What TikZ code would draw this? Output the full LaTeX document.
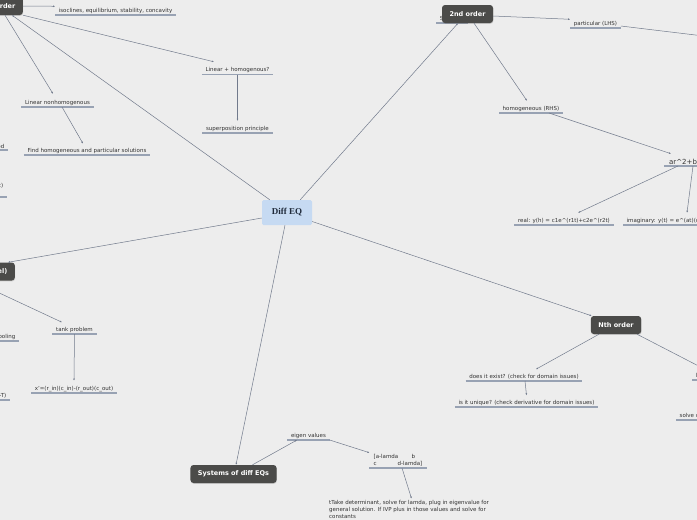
\documentclass[tikz,border=0pt]{standalone}
\usepackage{fontspec}
\setmainfont{DejaVu Sans}
\newfontfamily\diffont{Liberation Serif}
\usetikzlibrary{arrows.meta,shadows}
\definecolor{bg}{HTML}{EDEDED}
\definecolor{linec}{HTML}{717A8C}
\definecolor{ulc}{HTML}{98A2B3}
\definecolor{darkbox}{HTML}{4B4B49}
\definecolor{txt}{HTML}{333333}
\definecolor{rootfill}{HTML}{C6DAF2}
\definecolor{roottxt}{HTML}{1F2A3A}
\tikzset{
  topic/.style={inner xsep=3.5pt, inner ysep=1.5pt, text=txt, font=\fontsize{5.5}{7}\selectfont,
    append after command={(\tikzlastnode.south west) edge[draw=ulc, line width=1.1pt, -] (\tikzlastnode.south east)}},
  dbox/.style={fill=darkbox, rounded corners=3pt, text=white, font=\bfseries\fontsize{6.5}{8}\selectfont,
    inner xsep=7.5pt, minimum height=18pt, drop shadow={opacity=0.3, shadow xshift=0.4pt, shadow yshift=-0.8pt}},
  rootbox/.style={fill=rootfill, rounded corners=1.5pt, minimum width=50pt, minimum height=25pt,
    font=\diffont\bfseries\fontsize{9}{10}\selectfont, text=roottxt},
  conn/.style={draw=linec, line width=0.5pt, -{Latex[length=2pt,width=1.8pt]}},
}
\begin{document}
\begin{tikzpicture}[x=1pt,y=-1pt]
\fill[bg] (0,0) rectangle (697,520);
\useasboundingbox (0,0) rectangle (697,520);

% first order branch
\node[dbox, anchor=east] (first) at (23,6) {1st order};
\node[topic, anchor=south] (iso) at (115.5,15) {isoclines, equilibrium, stability, concavity};
\node[topic, anchor=south] (linhom) at (237.5,74.5) {Linear + homogenous?};
\node[topic, anchor=south] (superpos) at (237.5,133) {superposition principle};
\node[topic, anchor=south] (linnon) at (57.5,107) {Linear nonhomogenous};
\node[topic, anchor=south] (findhom) at (87,155) {Find homogeneous and particular solutions};
\node[topic, anchor=south east] (meth) at (8,150) {method};
\node[topic, anchor=south east, align=left] (sep) at (7,197) {separate and integrate (+c)\\for y};

% model branch
\node[dbox, anchor=east] (model) at (15,271.5) {Applications (model)};
\node[topic, anchor=south] (tank) at (74.5,334) {tank problem};
\node[topic, anchor=south] (xprime) at (74,393) {x'=(r\_in)(c\_in)-(r\_out)(c\_out)};
\node[topic, anchor=south east] (cool) at (19,341) {Newton's law of cooling};
\node[topic, anchor=south east] (newt) at (10,400) {dT/dt=-k(T\_0-T)};

% root
\node[rootbox] (diff) at (287,212.5) {Diff EQ};

% second order
\node[topic, anchor=south] (subt) at (452,23) {Subtopic};
\node[dbox] (second) at (467.5,14) {2nd order};
\node[topic, anchor=south] (part) at (595.5,28) {particular (LHS)};
\coordinate (offpart) at (770,44);
\node[topic, anchor=south] (homr) at (531,113) {homogeneous (RHS)};
\node[topic, anchor=south west, inner xsep=5pt, font=\fontsize{7}{8}\selectfont] (ar) at (664,166) {ar\textasciicircum 2+br+c=0};
\node[topic, anchor=south] (real) at (564,225) {real: y(h) = c1e\textasciicircum(r1t)+c2e\textasciicircum(r2t)};
\node[topic, anchor=south west] (imag) at (623,225) {imaginary: y(t) = e\textasciicircum(at)(c1cos(bt)+c2sin(bt))};

% Nth order
\node[dbox] (nth) at (616,325) {Nth order};
\node[topic, anchor=south] (exist) at (524,381) {does it exist? (check for domain issues)};
\node[topic, anchor=south] (uniq) at (526.5,407) {is it unique? (check derivative for domain issues)};
\node[topic, anchor=south west] (lin) at (692,380) {linear homogeneous};
\node[topic, anchor=south west] (solve) at (676,420) {solve characteristic equation};

% systems
\node[dbox] (sys) at (233.5,474) {Systems of diff EQs};
\node[topic, anchor=south] (eig) at (308.5,440) {eigen values};
\node[topic, anchor=south, align=left, inner xsep=4pt] (mat) at (398,468) {\makebox[38pt][l]{[a-lamda}b\\\makebox[24pt][l]{c}d-lamda]};
\node[topic, anchor=north west, align=left, inner xsep=2.5pt, inner ysep=3pt] (take) at (326.5,497.5) {tTake determinant, solve for lamda, plug in eigenvalue for\\general solution. If IVP plus in those values and solve for\\constants};

% connectors
\draw[conn] (first.east) -- (iso.north west);
\draw[conn] (first.south east) -- ([xshift=12pt,yshift=4pt]linhom.north west);
\draw[conn] ([xshift=-18pt]first.south east) -- ([xshift=-4.5pt,yshift=4.5pt]linnon.north);
\draw[conn] (linhom.south) -- ([yshift=3.5pt]superpos.north);
\draw[conn] ([xshift=4.5pt]linnon.south) -- ([xshift=-4pt,yshift=2.7pt]findhom.north);
\draw[conn] ([xshift=8pt]diff.north west) -- ([xshift=-11pt]first.south east);
\draw[conn] ([yshift=-5.5pt]diff.west) -- ([xshift=-7pt]model.north east);
\draw[conn] ([xshift=-42pt]model.south east) -- ([xshift=-12.5pt,yshift=3pt]tank.north);
\draw[conn] (tank.south) -- ([yshift=3.5pt]xprime.north);
\draw[conn] ([xshift=-12pt]diff.north east) -- ([xshift=-9.5pt]second.south);
\draw[conn] ([yshift=-2pt]second.east) -- (part.north west);
\draw[draw=linec, line width=0.5pt] ([yshift=2pt]part.south east) -- (offpart);
\draw[conn] ([xshift=6.5pt]second.south) -- ([xshift=-4pt,yshift=3.5pt]homr.north);
\draw[conn] ([xshift=18pt]homr.south) -- ([xshift=7pt,yshift=3.5pt]ar.north west);
\draw[conn] ([xshift=14pt]ar.south west) -- ([xshift=14pt,yshift=3.5pt]real.north);
\draw[conn] ([xshift=29pt]ar.south west) -- ([xshift=64pt,yshift=3.5pt]imag.north west);
\draw[conn] ([yshift=-9pt]diff.east) -- ([xshift=1pt]nth.north west);
\draw[conn] ([xshift=-17pt]nth.south) -- ([xshift=12pt,yshift=3.5pt]exist.north);
\draw[conn] ([xshift=1pt]exist.south) -- ([yshift=3pt]uniq.north);
\draw[conn] ([xshift=21pt]nth.south) -- ([xshift=10pt,yshift=3.5pt]lin.north west);
\draw[conn] ([xshift=-2pt]diff.south) -- ([xshift=2.5pt]sys.north);
\draw[conn] ([xshift=19pt]sys.north) -- ([xshift=-11.5pt]eig.south);
\draw[conn] (eig.south east) -- (mat.north west);
\draw[conn] ([xshift=4pt]mat.south) -- ([xshift=85pt,yshift=-1pt]take.north west);
\end{tikzpicture}
\end{document}
